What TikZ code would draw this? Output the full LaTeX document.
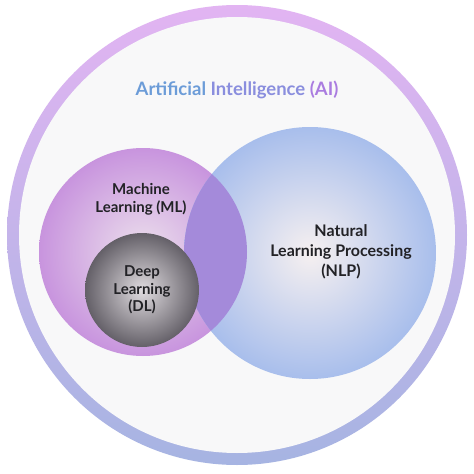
\documentclass[tikz,border=0pt]{standalone}
\usepackage{fontspec}
\setmainfont{Lato}
\usepackage{xcolor}
\usepackage{tikz}
\definecolor{ringtop}{RGB}{226,180,242}
\definecolor{ringbot}{RGB}{166,180,226}
\definecolor{aifill}{RGB}{248,248,249}
\definecolor{mlout}{RGB}{200,148,222}
\definecolor{mlin}{RGB}{236,224,236}
\definecolor{nlpout}{RGB}{168,190,236}
\definecolor{nlpin}{RGB}{246,240,240}
\definecolor{overlap}{RGB}{164,138,218}
\definecolor{dlout}{RGB}{100,96,104}
\definecolor{dlin}{RGB}{224,220,224}
\definecolor{txt}{RGB}{34,34,38}
\definecolor{aiblue}{RGB}{108,156,216}
\definecolor{aimid}{RGB}{138,142,222}
\definecolor{aipurple}{RGB}{170,124,224}

\begin{document}
\begin{tikzpicture}[
  x=1pt, y=-1pt,
  set/.style={circle, inner sep=0pt},
  lbl/.style={align=center, font=\bfseries\fontsize{15}{18}\selectfont, text=txt}
]
  \useasboundingbox (0,0) rectangle (474,474);
  \fill[white] (0,0) rectangle (474,474);

  \node[set, minimum size=460pt, top color=ringtop, bottom color=ringbot] (ring) at (237,235) {};
  \node[set, minimum size=436pt, fill=aifill] (ai) at (ring.center) {};

  \node[set, minimum size=208pt, inner color=mlin, outer color=mlout] (ml) at (143,252) {};
  \node[set, minimum size=252pt, inner color=nlpin, outer color=nlpout] (nlp) at (310,253) {};
  \begin{scope}
    \clip (ml.center) circle (104pt);
    \fill[overlap] (nlp.center) circle (126pt);
  \end{scope}
  \node[set, minimum size=114pt, inner color=dlin, outer color=dlout] (dl) at (142,290) {};

  \node[font=\bfseries\fontsize{18.5}{20}\selectfont] (aititle) at (237,90)
    {\textcolor{aiblue}{Artificial} \textcolor{aimid}{Intelligence} \textcolor{aipurple}{(AI)}};
  \node[lbl] (mltext) at (141,199) {Machine\\Learning (ML)};
  \node[lbl, font=\bfseries\fontsize{15}{17.5}\selectfont] (dltext) at (142,290) {Deep\\Learning\\(DL)};
  \node[lbl, font=\bfseries\fontsize{16}{20}\selectfont] (nlptext) at (341,252) {Natural\\Learning Processing\\(NLP)};
\end{tikzpicture}
\end{document}
